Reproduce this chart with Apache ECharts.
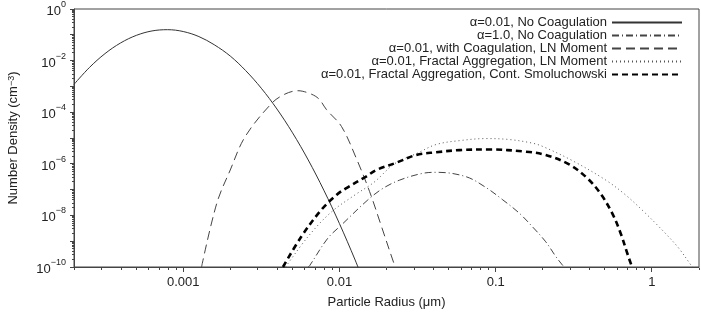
<!DOCTYPE html>
<html>
<head>
<meta charset="utf-8">
<script src="https://cdn.jsdelivr.net/npm/echarts@6/dist/echarts.min.js"></script>
<style>
html,body{margin:0;padding:0;background:#fff;}
#c{width:701px;height:312px;}
</style>
</head>
<body>
<div id="c"></div>
<script>
// ---- data (x = particle radius in µm, y = number density in cm^-3) ----
const seriesNames = [
  'α=0.01, No Coagulation',
  'α=1.0, No Coagulation',
  'α=0.01, with Coagulation, LN Moment',
  'α=0.01, Fractal Aggregation, LN Moment',
  'α=0.01, Fractal Aggregation, Cont. Smoluchowski'
];
const noCoag001 = [
  [0.0002, 1.2e-3], [0.000251, 5.4e-3], [0.000316, 1.87e-2], [0.000398, 4.86e-2],
  [0.000501, 9.5e-2], [0.000631, 0.141], [0.000794, 0.158], [0.001, 0.134],
  [0.00126, 0.0853], [0.00158, 0.0411], [0.002, 0.015], [0.00251, 4.1e-3],
  [0.00316, 8.5e-4], [0.00398, 1.33e-4], [0.00501, 1.58e-5], [0.00631, 1.41e-6],
  [0.00794, 9.5e-8], [0.01, 4.8e-9], [0.0126, 1.86e-10], [0.0141, 3.3e-11]
];
const noCoag10 = [
  [0.00631, 1e-10], [0.00644, 1.12e-10], [0.00841, 1.29e-9], [0.0103, 4.27e-9],
  [0.0152, 4.0e-8], [0.019, 1.12e-7], [0.0243, 2.34e-7], [0.0341, 4.27e-7],
  [0.0424, 4.68e-7], [0.0646, 3.16e-7], [0.0867, 1.2e-7], [0.111, 4.0e-8],
  [0.142, 1.2e-8], [0.172, 3.6e-9], [0.209, 9.5e-10], [0.243, 2.5e-10],
  [0.267, 1.2e-10], [0.275, 1e-10]
];
const coagLN = [
  [0.00131, 1e-10], [0.00164, 2.95e-8], [0.002, 5.75e-7], [0.00249, 1.12e-5],
  [0.00368, 2.2e-4], [0.00447, 5.0e-4], [0.00542, 6.8e-4], [0.00661, 5.0e-4],
  [0.00741, 3.2e-4], [0.00826, 1.26e-4], [0.0103, 2.8e-5], [0.0128, 1.66e-6],
  [0.0156, 8.3e-8], [0.0185, 4e-9], [0.0223, 1.4e-10], [0.0229, 1e-10]
];
const fractalLN = [
  [0.00452, 1e-10], [0.00628, 1.48e-9], [0.00883, 1.32e-8], [0.0126, 6.3e-8],
  [0.0166, 1.9e-7], [0.0225, 1.0e-6], [0.0316, 2.6e-6], [0.0416, 5.6e-6],
  [0.0586, 7.9e-6], [0.0867, 9.5e-6], [0.123, 8.7e-6], [0.172, 6.3e-6],
  [0.2, 4.7e-6], [0.31, 1.32e-6], [0.506, 2.34e-7], [0.678, 6.2e-8],
  [0.91, 1.2e-8], [1.22, 2.0e-9], [1.49, 5.2e-10], [1.79, 1.12e-10], [1.83, 1e-10]
];
const fractalSmol = [
  [0.00435, 1e-10], [0.00569, 1.48e-9], [0.00764, 1.62e-8], [0.00957, 6.2e-8],
  [0.011, 1.12e-7], [0.0148, 3.2e-7], [0.0172, 5.75e-7], [0.0231, 1.1e-6],
  [0.031, 2.2e-6], [0.0416, 2.8e-6], [0.0586, 3.4e-6], [0.091, 3.6e-6],
  [0.156, 2.95e-6], [0.209, 2.2e-6], [0.295, 9.5e-7], [0.386, 2.75e-7],
  [0.47, 6.8e-8], [0.557, 1.2e-8], [0.631, 2.0e-9], [0.695, 3.4e-10],
  [0.741, 1.12e-10], [0.75, 1e-10]
];
const xTickValues = [0.001, 0.01, 0.1, 1];
const xTickLabels = ['0.001', '0.01', '0.1', '1'];
const yLabelExponents = [0, -2, -4, -6, -8, -10];

// ---- chart ----
const chart = echarts.init(document.getElementById('c'), null, {renderer: 'canvas'});
const FONT = 'Liberation Sans, Arial, Helvetica, sans-serif';
const TXT = '#222';
const AX = '#444';
const X_MIN = 0.0002, X_MAX = 2, Y_MIN = 1e-10, Y_MAX = 1;

function xFmt(v) {
  for (let i = 0; i < xTickValues.length; i++) {
    if (Math.abs(Math.log10(v) - Math.log10(xTickValues[i])) < 1e-6) return xTickLabels[i];
  }
  return '';
}
function yFmt(v) {
  const e = Math.round(Math.log10(v));
  if (Math.abs(Math.log10(v) - e) > 1e-6) return '';
  if (yLabelExponents.indexOf(e) < 0) return '';
  return '{b|10}{s|' + (e === 0 ? '0' : '\u2212' + (-e)) + '}';
}

const styles = [
  {color: '#333', width: 1, type: 'solid'},
  {color: '#444', width: 1, type: [7, 3, 1, 3]},
  {color: '#444', width: 1, type: [9, 5]},
  {color: '#555', width: 1, type: [1, 3]},
  {color: '#000', width: 2.6, type: [6, 4]}
];
const datasets = [noCoag001, noCoag10, coagLN, fractalLN, fractalSmol];

const option = {
  backgroundColor: '#fff',
  animation: false,
  textStyle: {fontFamily: FONT},
  grid: {left: 74, right: 2, top: 9, bottom: 45, show: true, borderColor: AX, borderWidth: 1,
    containLabel: false, outerBoundsMode: 'none'},
  legend: {
    orient: 'vertical', right: 18, top: 16, align: 'right', padding: 0,
    itemWidth: 70, itemHeight: 10, itemGap: 0,
    itemStyle: {opacity: 0},
    textStyle: {fontSize: 13, color: TXT, fontFamily: FONT, lineHeight: 13},
    data: seriesNames
  },
  xAxis: {
    type: 'log', logBase: 10, min: X_MIN, max: X_MAX,
    axisLine: {show: true, lineStyle: {color: AX}},
    axisTick: {show: false},
    minorTick: {show: false},
    splitLine: {show: false},
    axisLabel: {formatter: xFmt, fontSize: 13, color: TXT, margin: 9, fontFamily: FONT,
      showMinLabel: false, showMaxLabel: false},
    name: 'Particle Radius (μm)', nameLocation: 'middle', nameGap: 29,
    nameTextStyle: {fontSize: 13, color: TXT, fontFamily: FONT}
  },
  yAxis: {
    type: 'log', logBase: 10, min: Y_MIN, max: Y_MAX, interval: 1,
    axisLine: {show: true, lineStyle: {color: AX}},
    axisTick: {show: false},
    minorTick: {show: false},
    splitLine: {show: false},
    axisLabel: {
      formatter: yFmt, margin: 8, color: TXT, showMinLabel: true, showMaxLabel: true,
      rich: {
        b: {fontSize: 13, color: TXT, fontFamily: FONT, verticalAlign: 'bottom', lineHeight: 18},
        s: {fontSize: 9, color: TXT, fontFamily: FONT, verticalAlign: 'top', lineHeight: 10}
      }
    },
    name: 'Number Density (cm{s|\u22123})', nameLocation: 'middle', nameGap: 54,
    nameTextStyle: {
      fontSize: 13, color: TXT, fontFamily: FONT,
      rich: {s: {fontSize: 9, color: TXT, fontFamily: FONT, verticalAlign: 'top', lineHeight: 10}}
    }
  },
  series: datasets.map((d, i) => ({
    name: seriesNames[i], type: 'line', data: d, showSymbol: false, symbol: 'none',
    smooth: 0.35, clip: true, lineStyle: styles[i], itemStyle: {color: styles[i].color},
    z: 2 + i
  }))
};
chart.setOption(option);

// ---- axis ticks (decades + 2..9 subdivisions), positioned through the chart's own scales ----
const ticks = [];
function addTickRect(x, y, w, h) {
  ticks.push({type: 'rect', silent: true, z: 100,
    shape: {x: x, y: y, width: w, height: h}, style: {fill: AX}});
}
for (let k = -4; k <= 0; k++) {
  for (let m = 1; m <= 9; m++) {
    const v = m * Math.pow(10, k);
    if (v < X_MIN * 0.999 || v > X_MAX * 1.001) continue;
    const p = chart.convertToPixel({gridIndex: 0}, [v, Y_MIN]);
    addTickRect(Math.floor(p[0]), Math.round(p[1]) + 1, 1, m === 1 ? 4 : 2);
  }
}
for (let k = -10; k <= 0; k++) {
  for (let m = 1; m <= 9; m++) {
    const v = m * Math.pow(10, k);
    if (v < Y_MIN * 0.999 || v > Y_MAX * 1.001) continue;
    const p = chart.convertToPixel({gridIndex: 0}, [X_MIN, v]);
    const len = m === 1 ? 4 : 2;
    addTickRect(Math.round(p[0]) - len, Math.floor(p[1]), len, 1);
  }
}
chart.setOption({graphic: {elements: ticks}});
</script>
</body>
</html>
